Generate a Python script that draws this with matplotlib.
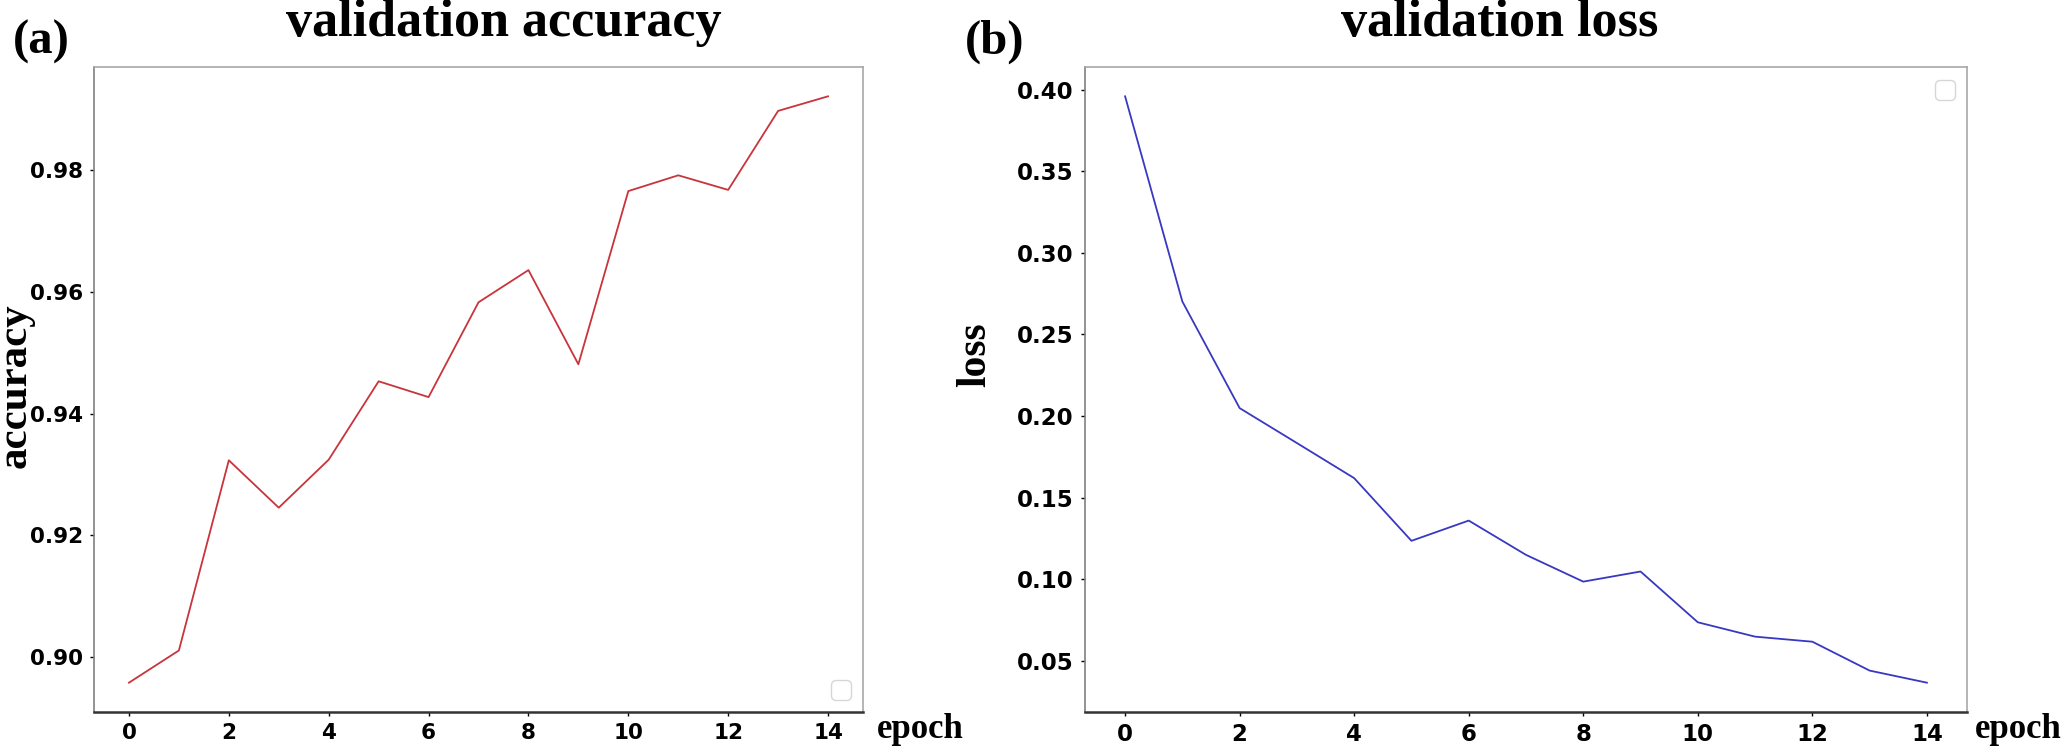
import matplotlib
matplotlib.use('Agg')
import matplotlib.pyplot as plt

# values
epochs = list(range(15))
val_acc = [0.8957, 0.9010, 0.9323, 0.9245, 0.9324, 0.9453, 0.9427, 0.9583,
           0.9636, 0.9481, 0.9766, 0.9792, 0.9768, 0.9898, 0.9922]
val_loss = [0.3959, 0.2702, 0.2049, 0.1835, 0.1620, 0.1236, 0.1360, 0.1150,
            0.0986, 0.1048, 0.0737, 0.0649, 0.0618, 0.0441, 0.0367]

W, H = 2065, 747
SERIF = ['Liberation Serif', 'DejaVu Serif']

fig = plt.figure(figsize=(W / 100, H / 100), dpi=100)

def px_axes(x0, x1, y0, y1):
    return fig.add_axes([x0 / W, 1 - y1 / H, (x1 - x0) / W, (y1 - y0) / H])

def style(ax, size):
    for s in ['top', 'right', 'left']:
        ax.spines[s].set_color('#a8a8a8')
        ax.spines[s].set_linewidth(1.2)
    ax.spines['left'].set_color('#808080')
    ax.spines['bottom'].set_color('#333333')
    ax.spines['bottom'].set_linewidth(1.8)
    ax.tick_params(length=3, width=1, pad=5, labelsize=size)
    for lab in ax.get_xticklabels() + ax.get_yticklabels():
        lab.set_fontweight('bold')
        lab.set_family('DejaVu Sans')

ax1 = px_axes(94, 863, 67, 712)
ax1.plot(epochs, val_acc, color='#c8343c', linewidth=1.3)
ax1.set_xticks(range(0, 15, 2))
style(ax1, 15.5)
ax1.legend(handles=[], loc='lower right', fontsize=18, borderaxespad=0.5)

ax2 = px_axes(1085, 1967, 67, 712)
ax2.plot(epochs, val_loss, color='#3838c0', linewidth=1.3)
ax2.set_xticks(range(0, 15, 2))
style(ax2, 16.5)
ax2.legend(handles=[], loc='upper right', fontsize=18, borderaxespad=0.5)

# titles, panel letters and axis labels placed by pixel
def ftext(x, y, s, **kw):
    fig.text(x / W, 1 - y / H, s, family=SERIF, fontweight='bold', **kw)

ftext(504, 36, 'validation accuracy', fontsize=37.5, ha='center', va='baseline')
ftext(1500, 36, 'validation loss', fontsize=37.5, ha='center', va='baseline')
ftext(41, 42, '(a)', fontsize=35, ha='center', va='center')
ftext(995, 42, '(b)', fontsize=35, ha='center', va='center')
ftext(26, 386, 'accuracy', fontsize=31, ha='center', va='baseline',
      rotation=90, rotation_mode='anchor')
ftext(975, 355, 'loss', fontsize=30, ha='center', va='center', rotation=90)
ftext(877, 738, 'epoch', fontsize=25, ha='left', va='baseline')
ftext(1975, 738, 'epoch', fontsize=25, ha='left', va='baseline')

fig.savefig('out.png', dpi=100, facecolor='white')
